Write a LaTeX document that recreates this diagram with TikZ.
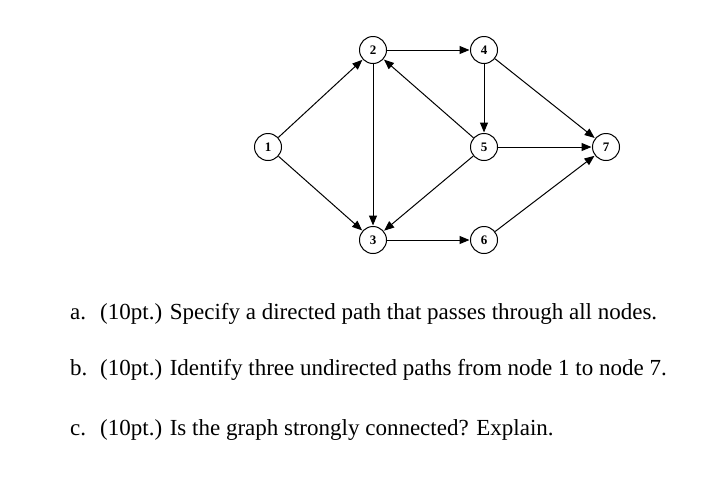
\documentclass[tikz,border=0pt]{standalone}
\usepackage{fontspec}
\setmainfont{Liberation Serif}
\usetikzlibrary{arrows.meta}
\tikzset{
  vertex/.style={circle, draw=black, line width=1pt, minimum size=27pt, inner sep=0pt, font=\fontsize{13}{13}\selectfont\bfseries},
  edge/.style={-{Triangle[length=10pt,width=8pt]}, line width=1pt, shorten >=0.5pt},
  item/.style={anchor=base west, inner sep=0pt, font=\fontsize{23}{24}\selectfont},
}
\begin{document}
\begin{tikzpicture}[x=1pt,y=-1pt]
  \useasboundingbox (0,0) rectangle (723,480);
  % vertices
  \node[vertex] (n1) at (268,147) {1};
  \node[vertex] (n2) at (373,50) {2};
  \node[vertex] (n3) at (373,240) {3};
  \node[vertex] (n4) at (484,50) {4};
  \node[vertex] (n5) at (484,147) {5};
  \node[vertex] (n6) at (484,240) {6};
  \node[vertex] (n7) at (606,147) {7};
  % arcs
  \foreach \a/\b in {n1/n2, n1/n3, n2/n4, n2/n3, n5/n2, n4/n5, n4/n7, n5/n7, n5/n3, n3/n6, n6/n7}
    \draw[edge] (\a) -- (\b);
  % questions
  \node[item] (qa) at (70,319) {a.};
  \node[item] (ta) at (100,319) {(10pt.) Specify a directed path that passes through all nodes.};
  \node[item] (qb) at (70,375) {b.};
  \node[item] (tb) at (100,375) {(10pt.) Identify three undirected paths from node 1 to node 7.};
  \node[item] (qc) at (70,435) {c.};
  \node[item] (tc) at (100,435) {(10pt.) Is the graph strongly connected? Explain.};
\end{tikzpicture}
\end{document}
